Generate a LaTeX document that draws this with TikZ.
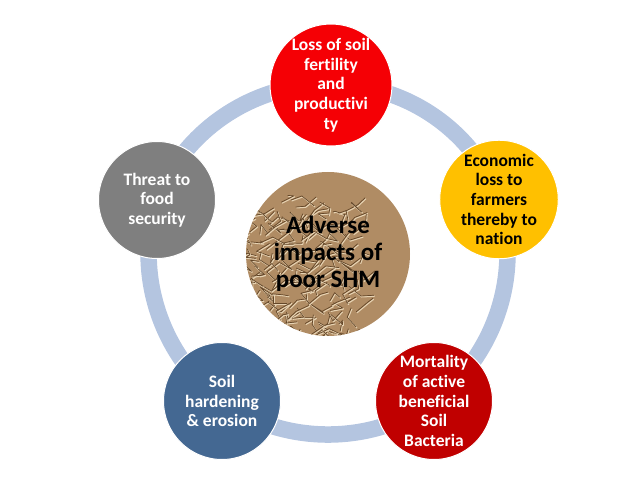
\documentclass[tikz,border=0pt]{standalone}
\usepackage{fontspec}
\setmainfont{Carlito}[Ligatures=CommonOff]
\definecolor{ringblue}{HTML}{B4C5E0}
\definecolor{soilbase}{HTML}{B08C64}
\definecolor{soildark}{HTML}{644729}
\definecolor{soillight}{HTML}{E6D2B2}
\usetikzlibrary{backgrounds}
\tikzset{
	impact/.style={circle,draw=white,line width=1pt,minimum size=117pt,inner sep=0pt,align=center,
		font=\fontsize{17.5}{19.7}\selectfont\bfseries},
	ringpart/.style={ringblue,line width=16.5pt,bend left=36,looseness=0.92},
}
\begin{document}
\begin{tikzpicture}[x=1pt,y=-1pt]
	\useasboundingbox (0,0) rectangle (638,478);
	\node[impact,fill={rgb,255:red,245;green,0;blue,5},text=white] (lossnode) at (331,85) {Loss of soil\\fertility\\and\\productivi\\ty};
	\node[impact,fill={rgb,255:red,255;green,192;blue,0},text=black] (econnode) at (499,199.5) {Economic\\loss to\\farmers\\thereby to\\nation};
	\node[impact,fill={rgb,255:red,192;green,0;blue,0},text=white] (mortnode) at (434,401) {Mortality\\of active\\beneficial\\Soil\\Bacteria};
	\node[impact,fill={rgb,255:red,68;green,104;blue,146},text=white] (hardnode) at (222,401) {Soil\\hardening\\\& erosion};
	\node[impact,fill={rgb,255:red,127;green,127;blue,127},text=white] (threatnode) at (157,200) {Threat to\\food\\security};
	\begin{pgfonlayer}{background}
		\draw[ringpart] (lossnode.center) to (econnode.center);
		\draw[ringpart] (econnode.center) to (mortnode.center);
		\draw[ringpart] (mortnode.center) to (hardnode.center);
		\draw[ringpart] (hardnode.center) to (threatnode.center);
		\draw[ringpart] (threatnode.center) to (lossnode.center);
	\end{pgfonlayer}
	\node[circle,minimum size=164pt,inner sep=0pt,align=center,fill=soilbase,
		font=\fontsize{25}{27}\selectfont\bfseries,
		path picture={
			\begin{scope}[shift={(path picture bounding box.center)}]
			\foreach \i in {-8,...,8} {
				\foreach \j in {-8,...,8} {
					\pgfmathsetmacro{\xa}{10*\i+6*sin(173*\i+311*\j)}
					\pgfmathsetmacro{\ya}{10*\j+6*cos(257*\i+97*\j)}
					\pgfmathsetmacro{\xb}{\xa+13*sin(419*\i+223*\j)}
					\pgfmathsetmacro{\yb}{\ya+10*cos(137*\i+541*\j)}
					\pgfmathsetmacro{\xc}{\xb+13*cos(631*\i+379*\j)}
					\pgfmathsetmacro{\yc}{\yb+10*sin(293*\i+487*\j)}
					\draw[soillight,line width=1.1pt,line join=round] (\xa+0.8,\ya+1) -- (\xb+0.8,\yb+1) -- (\xc+0.8,\yc+1);
					\draw[soildark,line width=0.7pt,line join=round] (\xa,\ya) -- (\xb,\yb) -- (\xc,\yc);
				}
			}
			\end{scope}
		}] (centernode) at (328,254) {Adverse\\impacts of\\poor SHM};
\end{tikzpicture}
\end{document}
